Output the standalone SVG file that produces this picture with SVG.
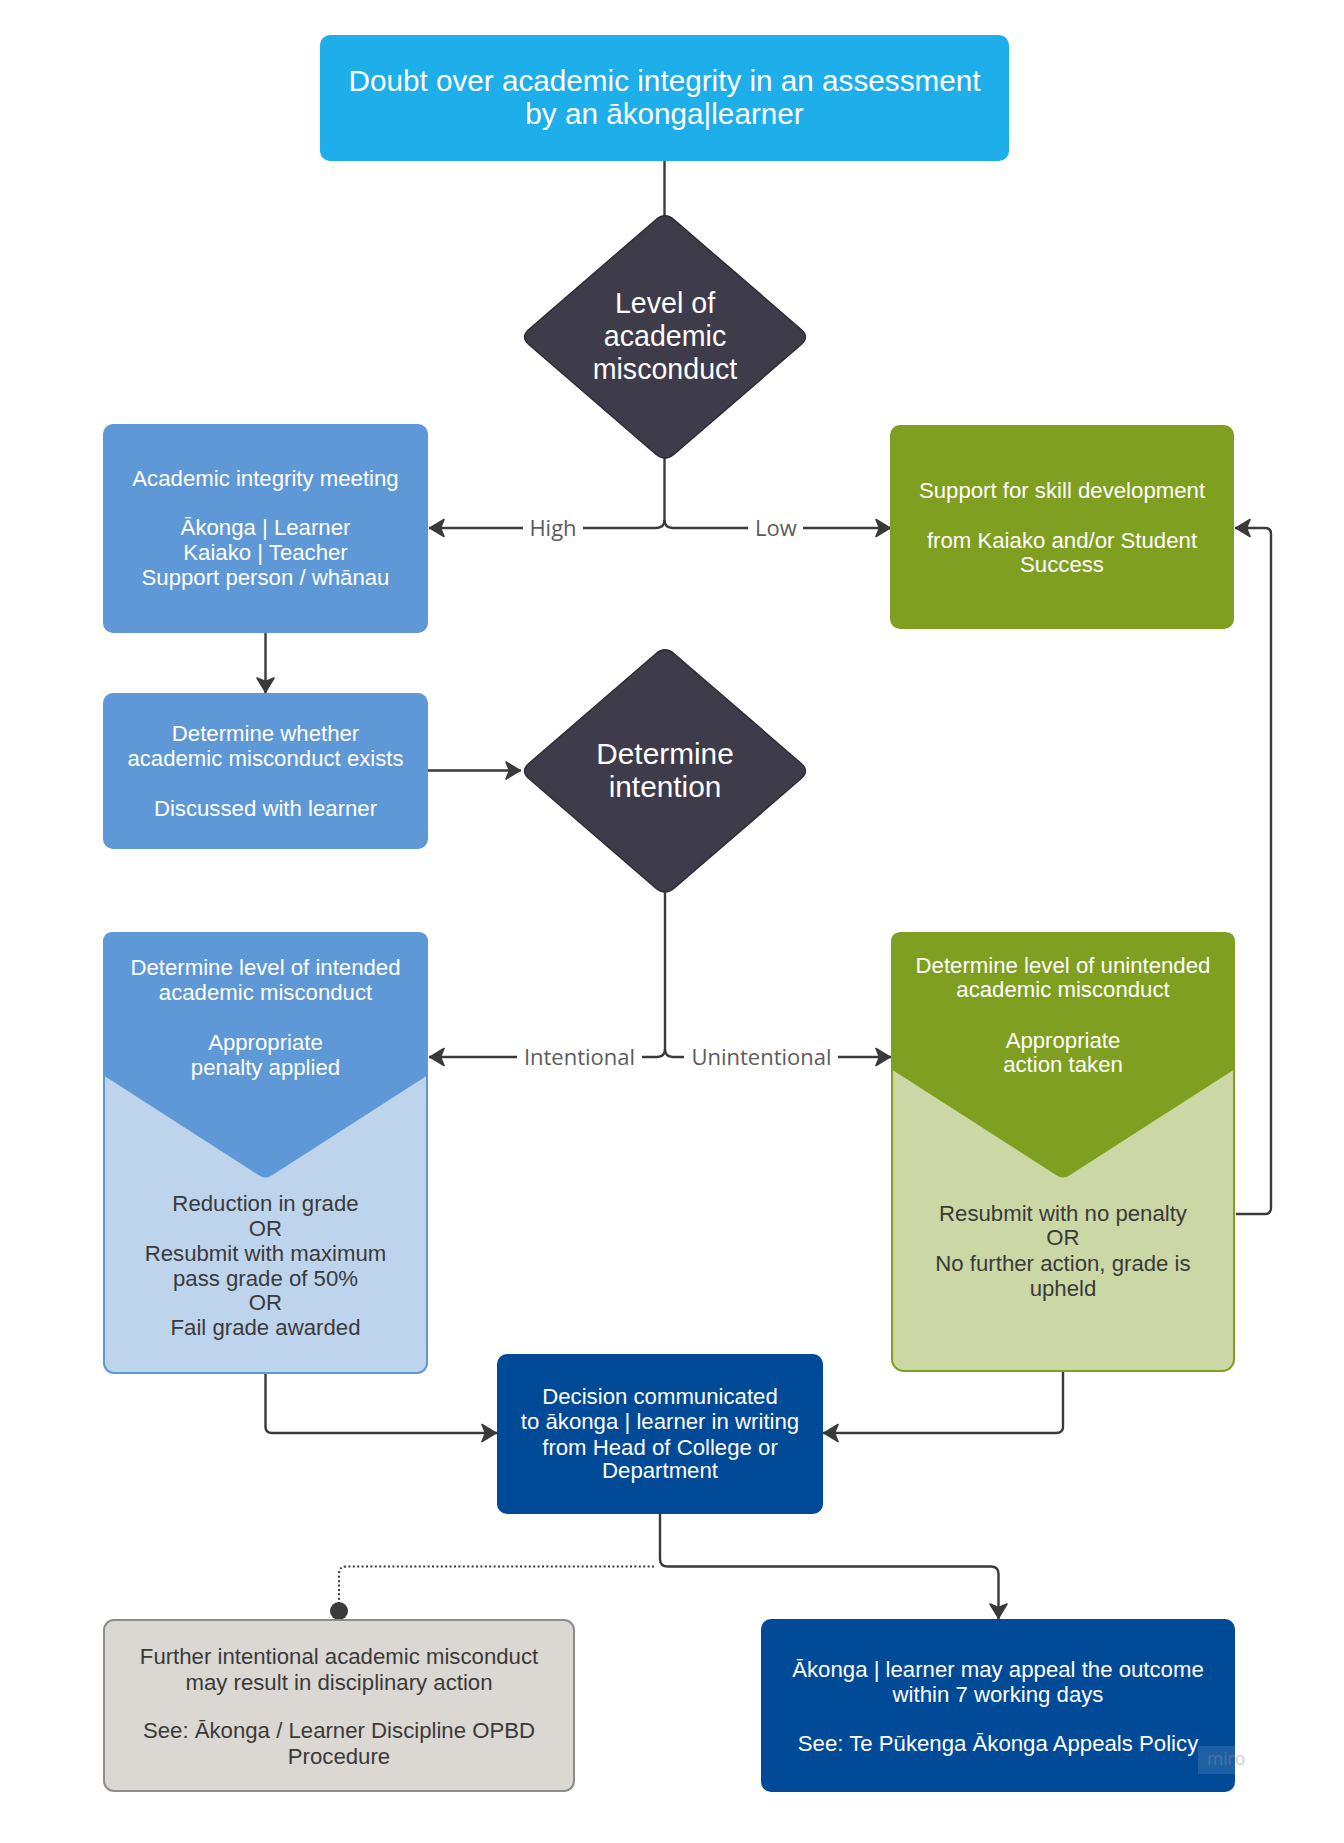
<svg xmlns="http://www.w3.org/2000/svg" width="1344" height="1843" viewBox="0 0 1344 1843">
<style>
text{font-family:"Liberation Sans",Arial,sans-serif;text-anchor:middle}
.w21{fill:#fff;font-size:22.2px}
.d21{fill:#3a3a3a;font-size:22.2px}
.t28{fill:#fff;font-size:28.6px}
.t29{fill:#fff;font-size:29.7px}
.t30{fill:#fff;font-size:29.8px}
.lab{font-family:"Open Sans",sans-serif;fill:#5c5c5c;font-size:22px}
.c{fill:none;stroke:#3a3a3a;stroke-width:2.4}
.a{marker-end:url(#arr)}
.dm{fill:#3e3b4b;stroke:#2d2d33;stroke-width:1.5}
</style>
<defs>
<marker id="arr" markerUnits="userSpaceOnUse" markerWidth="20" markerHeight="24" refX="17" refY="11" orient="auto">
<path d="M16,11 L2,2.5 L5.5,11 L2,19.5 Z" fill="#3a3a3a" stroke="#3a3a3a" stroke-width="1.6" stroke-linejoin="round"/>
</marker>
</defs>
<rect width="1344" height="1843" fill="#fff"/>
<g id="connectors">
<path class="c" d="M664.5,161V216"/>
<path class="c" d="M664.5,458V520"/>
<path class="c a" d="M523,528H429"/>
<path class="c" d="M664.5,520Q664.5,528 656,528H583"/>
<path class="c" d="M664.5,520Q664.5,528 673,528H748"/>
<path class="c a" d="M803,528H891"/>
<path class="c a" d="M265.5,633V693"/>
<path class="c a" d="M428,770.5H521"/>
<path class="c" d="M665,893V1049"/>
<path class="c a" d="M517,1057H429"/>
<path class="c" d="M665,1049Q665,1057 657,1057H642"/>
<path class="c" d="M665,1049Q665,1057 673,1057H684"/>
<path class="c a" d="M838,1057H891"/>
<path class="c a" d="M1236,1214H1265Q1271,1214 1271,1208V534Q1271,528 1265,528H1235"/>
<path class="c a" d="M265.5,1374V1427Q265.5,1433 272,1433H497"/>
<path class="c a" d="M1063,1372V1427Q1063,1433 1056,1433H823"/>
<path class="c a" d="M660,1514V1559Q660,1566.5 668,1566.5H991Q998.5,1566.5 998.5,1574V1619"/>
<path d="M660,1514V1560M654,1566.5H346Q339,1566.5 339,1574V1603" fill="none" stroke="#3a3a3a" stroke-width="2" stroke-dasharray="2 2.4"/>
<circle cx="339" cy="1611" r="9" fill="#3a3a3a"/>
</g>
<g id="title">
<rect x="320" y="35" width="689" height="126" rx="10" fill="#1eaeea"/>
<text class="t29" x="664.5" y="91">Doubt over academic integrity in an assessment</text>
<text class="t29" x="664.5" y="124">by an ākonga|learner</text>
</g>
<g id="level-diamond">
<path class="dm" d="M655.9,219.8Q665,212 674.1,219.8L800.9,329.2Q810,337 800.9,344.8L674.1,454.2Q665,462 655.9,454.2L529.1,344.8Q520,337 529.1,329.2Z"/>
<text class="t28" x="665" y="313">Level of</text>
<text class="t28" x="665" y="346">academic</text>
<text class="t28" x="665" y="379">misconduct</text>
</g>
<g id="meeting">
<rect x="103" y="424" width="325" height="209" rx="10" fill="#5f98d6"/>
<text class="w21" x="265.5" y="486">Academic integrity meeting</text>
<text class="w21" x="265.5" y="535">Ākonga | Learner</text>
<text class="w21" x="265.5" y="560">Kaiako | Teacher</text>
<text class="w21" x="265.5" y="584.5">Support person / whānau</text>
</g>
<g id="skill">
<rect x="890" y="425" width="344" height="204" rx="10" fill="#7f9f20"/>
<text class="w21" x="1062" y="498">Support for skill development</text>
<text class="w21" x="1062" y="548">from Kaiako and/or Student</text>
<text class="w21" x="1062" y="572">Success</text>
</g>
<g id="exists">
<rect x="103" y="693" width="325" height="156" rx="10" fill="#5f98d6"/>
<text class="w21" x="265.5" y="741">Determine whether</text>
<text class="w21" x="265.5" y="766">academic misconduct exists</text>
<text class="w21" x="265.5" y="815.5">Discussed with learner</text>
</g>
<g id="intent-diamond">
<path class="dm" d="M655.9,653.8Q665,646 674.1,653.8L800.9,763.2Q810,771 800.9,778.8L674.1,888.2Q665,896 655.9,888.2L529.1,778.8Q520,771 529.1,763.2Z"/>
<text class="t30" x="665" y="764">Determine</text>
<text class="t30" x="665" y="797">intention</text>
</g>
<g id="intended">
<rect x="104" y="933" width="323" height="440" rx="10" fill="#bed4ed" stroke="#5f98d6" stroke-width="2"/>
<path d="M103,1075V942Q103,932 113,932H418Q428,932 428,942V1075L272.5,1175Q265.5,1180 258.5,1175Z" fill="#5f98d6"/>
<text class="w21" x="265.5" y="975">Determine level of intended</text>
<text class="w21" x="265.5" y="1000">academic misconduct</text>
<text class="w21" x="265.5" y="1050">Appropriate</text>
<text class="w21" x="265.5" y="1075">penalty applied</text>
<text class="d21" x="265.5" y="1211">Reduction in grade</text>
<text class="d21" x="265.5" y="1236">OR</text>
<text class="d21" x="265.5" y="1260.5">Resubmit with maximum</text>
<text class="d21" x="265.5" y="1285.5">pass grade of 50%</text>
<text class="d21" x="265.5" y="1310">OR</text>
<text class="d21" x="265.5" y="1335">Fail grade awarded</text>
</g>
<g id="unintended">
<rect x="892" y="933" width="342" height="438" rx="12" fill="#ccd7a6" stroke="#7f9f20" stroke-width="2"/>
<path d="M891,1069V942Q891,932 901,932H1225Q1235,932 1235,942V1069L1070,1175Q1063,1180 1056,1175Z" fill="#7f9f20"/>
<text class="w21" x="1063" y="973">Determine level of unintended</text>
<text class="w21" x="1063" y="997">academic misconduct</text>
<text class="w21" x="1063" y="1047.5">Appropriate</text>
<text class="w21" x="1063" y="1072">action taken</text>
<text class="d21" x="1063" y="1221">Resubmit with no penalty</text>
<text class="d21" x="1063" y="1245">OR</text>
<text class="d21" x="1063" y="1271">No further action, grade is</text>
<text class="d21" x="1063" y="1296">upheld</text>
</g>
<g id="decision">
<rect x="497" y="1354" width="326" height="160" rx="10" fill="#004a98"/>
<text class="w21" x="660" y="1404">Decision communicated</text>
<text class="w21" x="660" y="1429">to ākonga | learner in writing</text>
<text class="w21" x="660" y="1454.5">from Head of College or</text>
<text class="w21" x="660" y="1478">Department</text>
</g>
<g id="further">
<rect x="104" y="1620" width="470" height="171" rx="10" fill="#dbd7d2" stroke="#8c8c8c" stroke-width="2"/>
<text class="d21" x="339" y="1664">Further intentional academic misconduct</text>
<text class="d21" x="339" y="1689.5">may result in disciplinary action</text>
<text class="d21" x="339" y="1738">See: Ākonga / Learner Discipline OPBD</text>
<text class="d21" x="339" y="1764">Procedure</text>
</g>
<g id="appeal">
<rect x="761" y="1619" width="474" height="173" rx="10" fill="#004a98"/>
<text class="w21" x="998" y="1677">Ākonga | learner may appeal the outcome</text>
<text class="w21" x="998" y="1702">within 7 working days</text>
<text class="w21" x="998" y="1751">See: Te Pūkenga Ākonga Appeals Policy</text>
</g>
<g id="edge-labels">
<text class="lab" x="553" y="536">High</text>
<text class="lab" x="776" y="536">Low</text>
<text class="lab" x="579.5" y="1065">Intentional</text>
<text class="lab" x="761.5" y="1065">Unintentional</text>
</g>
<g id="watermark">
<rect x="1198" y="1746" width="37" height="28" fill="#fff" fill-opacity=".12"/>
<text x="1207" y="1765" style="font-family:'Open Sans',sans-serif;font-size:17.5px;text-anchor:start" fill="#8d86ac" fill-opacity=".45">miro</text>
</g>
</svg>
